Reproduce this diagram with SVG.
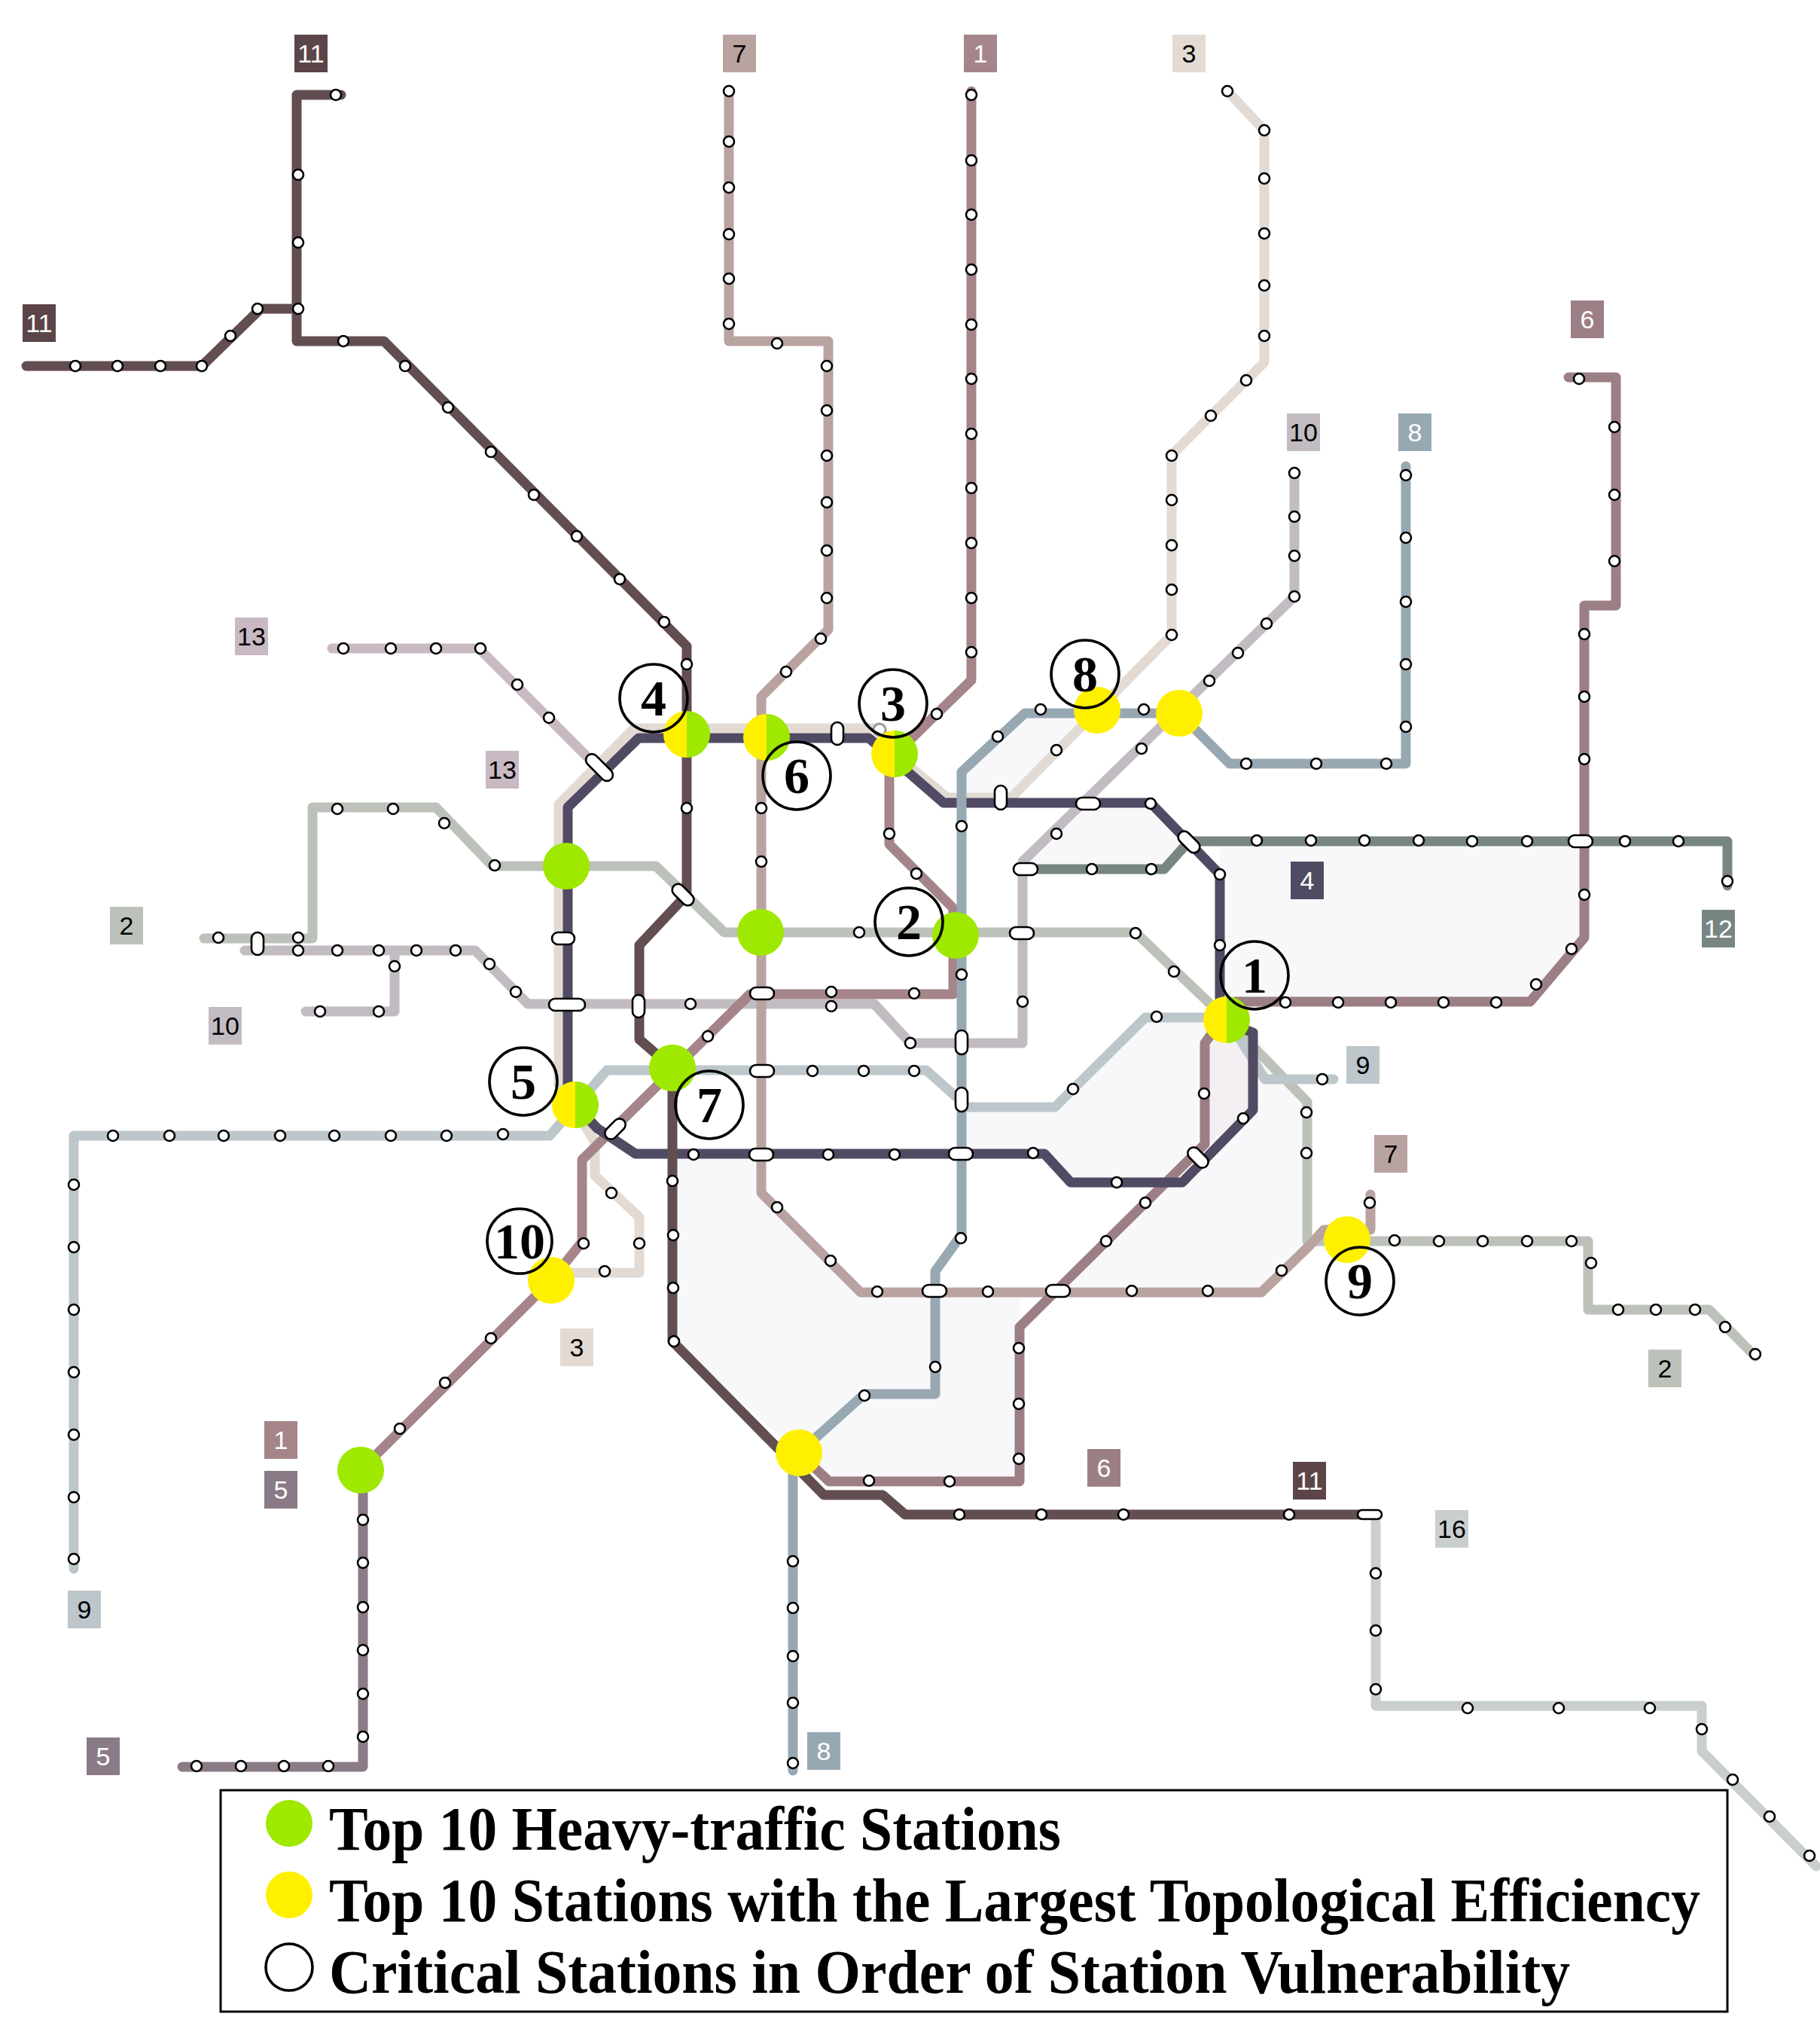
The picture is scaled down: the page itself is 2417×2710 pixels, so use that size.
<svg xmlns="http://www.w3.org/2000/svg" width="2417" height="2710" viewBox="0 0 2417 2710">
<style>
.l{fill:none;stroke-width:13;stroke-linejoin:round;stroke-linecap:round}
.s circle{fill:#fff;stroke:#000;stroke-width:2.6}
.p rect{fill:#fff;stroke:#000;stroke-width:2.6}
.r{fill:none;stroke:#000;stroke-width:3.6}
.n{font:bold 68px "Liberation Serif",serif;text-anchor:middle;fill:#000}
.t{font:34px "Liberation Sans",Arial,sans-serif;text-anchor:middle}
.lg{font:bold 82px "Liberation Serif",serif;fill:#000}
.y{fill:#fff000}.g{fill:#9fe800}
.reg{fill:#f8f8fb}
</style>
<defs>
<g id="half"><path class="y" d="M0-31A31 31 0 0 0 0 31Z"/><path class="g" d="M0-31A31 31 0 0 1 0 31Z"/></g>
</defs>
<rect width="2417" height="2710" fill="#fff"/>
<g id="regions">
<path class="reg" d="M1620 1117H2104V1245L2032 1330H1640L1620 1300Z"/>
<path class="reg" d="M895 1532H1012V1584L1143 1716H1242L1354 1714L1354 1762V1966H1101L1061 1929L895 1781Z"/>
<path class="reg" d="M1277 1470H1401L1521 1351H1629L1600 1385V1519L1570 1570H1422L1387 1532H1277Z"/>
<path class="reg" d="M1664 1371L1736 1463V1648L1675 1714H1405L1600 1519L1664 1474Z"/>
<path d="M1602 1385L1630 1360L1664 1400V1474L1602 1519Z" fill="#f3eff2"/>
<path class="reg" d="M1277 1025L1361 942H1457L1343 1059H1277Z"/>
<path class="reg" d="M1358 1144L1440 1066H1528L1579 1117L1546 1154H1358Z"/>
</g>
<g id="connectors">
<path class="l" stroke="#c8cfce" d="M1819 2011H1827V2265H2260V2325L2412 2478"/>
<path class="l" stroke="#c8b9c2" d="M441 861H636L795 1020"/>
<path class="l" stroke="#e2dad3" d="M1630 121L1679 173V481L1556 604V843L1343 1059H1258L1188 1001L1168 967H842L742 1068V1440L790 1516V1561L849 1616V1690H732"/>
<path class="l" stroke="#bcc2b9" d="M271 1246H415V1072H579L654 1150H871L962 1238H1508L1629 1354L1736 1463V1648H2109V1739H2270L2331 1801"/>
<path class="l" stroke="#c2bcc2" d="M1719 626V792L1358 1144V1385H1209L1161 1333H701L631 1262H325M524 1262V1343H406"/>
<path class="l" stroke="#b9a3a0" d="M968 121V453H1100V836L1011 925V1584L1143 1716H1675L1740 1653L1758 1633H1820V1586"/>
<path class="l" stroke="#bdc6cb" d="M98 2083V1508H730L806 1421H1230L1285 1470H1401L1521 1351H1629L1680 1433H1771"/>
<path class="l" stroke="#a58589" d="M1290 121V903L1212 979L1181 1010V1121L1266 1206V1320H996L773 1540V1649L732 1700L479 1952"/>
<path class="l" stroke="#8b7b86" d="M482 1952V2346H242"/>
<path class="l" stroke="#9c7f84" d="M2083 501H2146V804H2104V1245L2032 1330H1640L1600 1385V1519L1354 1762V1967H1101L1061 1929"/>
<path class="l" stroke="#778683" d="M1363 1154H1546L1579 1117H2294V1176"/>
<path class="l" stroke="#514a63" d="M764 1467H754V1072L848 980H1154L1253 1066H1528L1620 1161V1354L1664 1371V1474L1570 1570H1422L1387 1532H844L793 1498L764 1467"/>
<path class="l" stroke="#624e50" d="M453 126H394V453H510L912 858V1188L849 1255V1380L893 1418V1781L1094 1985H1172L1202 2011H1819M35 486H268L346 410H394"/>
<path class="l" stroke="#98a8b3" d="M1867 619V1014H1633L1566 947H1361L1277 1025V1639L1242 1688V1851H1148L1061 1929M1053 1929V2351"/>
</g>
<g id="stations" class="s">
<g id="line11-stations"><circle cx="446" cy="126" r="7"/><circle cx="396" cy="232" r="7"/><circle cx="396" cy="322" r="7"/><circle cx="396" cy="410" r="7"/><circle cx="456" cy="453" r="7"/><circle cx="538" cy="486" r="7"/><circle cx="595" cy="541" r="7"/><circle cx="652" cy="600" r="7"/><circle cx="709" cy="657" r="7"/><circle cx="766" cy="712" r="7"/><circle cx="823" cy="769" r="7"/><circle cx="882" cy="826" r="7"/><circle cx="912" cy="882" r="7"/><circle cx="100" cy="486" r="7"/><circle cx="156" cy="486" r="7"/><circle cx="213" cy="486" r="7"/><circle cx="268" cy="486" r="7"/><circle cx="306" cy="446" r="7"/><circle cx="342" cy="410" r="7"/><circle cx="912" cy="1073" r="7"/><circle cx="893" cy="1568" r="7"/><circle cx="894" cy="1640" r="7"/><circle cx="894" cy="1710" r="7"/><circle cx="895" cy="1781" r="7"/><circle cx="1274" cy="2011" r="7"/><circle cx="1383" cy="2011" r="7"/><circle cx="1492" cy="2011" r="7"/><circle cx="1712" cy="2011" r="7"/></g>
<g id="line16-stations"><circle cx="1827" cy="2089" r="7"/><circle cx="1827" cy="2165" r="7"/><circle cx="1827" cy="2243" r="7"/><circle cx="1949" cy="2268" r="7"/><circle cx="2070" cy="2268" r="7"/><circle cx="2191" cy="2268" r="7"/><circle cx="2260" cy="2296" r="7"/><circle cx="2301" cy="2363" r="7"/><circle cx="2350" cy="2412" r="7"/><circle cx="2403" cy="2464" r="7"/></g>
<g id="line7-stations"><circle cx="968" cy="121" r="7"/><circle cx="968" cy="188" r="7"/><circle cx="968" cy="249" r="7"/><circle cx="968" cy="311" r="7"/><circle cx="968" cy="370" r="7"/><circle cx="968" cy="430" r="7"/><circle cx="1032" cy="456" r="7"/><circle cx="1098" cy="486" r="7"/><circle cx="1098" cy="545" r="7"/><circle cx="1098" cy="605" r="7"/><circle cx="1098" cy="667" r="7"/><circle cx="1098" cy="731" r="7"/><circle cx="1098" cy="794" r="7"/><circle cx="1090" cy="848" r="7"/><circle cx="1044" cy="892" r="7"/><circle cx="1011" cy="1073" r="7"/><circle cx="1011" cy="1144" r="7"/><circle cx="1032" cy="1603" r="7"/><circle cx="1103" cy="1674" r="7"/><circle cx="1165" cy="1715" r="7"/><circle cx="1312" cy="1715" r="7"/><circle cx="1503" cy="1714" r="7"/><circle cx="1604" cy="1714" r="7"/><circle cx="1702" cy="1687" r="7"/><circle cx="1819" cy="1597" r="7"/></g>
<g id="line1-stations"><circle cx="1290" cy="126" r="7"/><circle cx="1290" cy="213" r="7"/><circle cx="1290" cy="285" r="7"/><circle cx="1290" cy="358" r="7"/><circle cx="1290" cy="431" r="7"/><circle cx="1290" cy="503" r="7"/><circle cx="1290" cy="576" r="7"/><circle cx="1290" cy="648" r="7"/><circle cx="1290" cy="721" r="7"/><circle cx="1290" cy="794" r="7"/><circle cx="1290" cy="866" r="7"/><circle cx="1244" cy="948" r="7"/><circle cx="1181" cy="1107" r="7"/><circle cx="1217" cy="1160" r="7"/><circle cx="1214" cy="1319" r="7"/><circle cx="1104" cy="1317" r="7"/><circle cx="940" cy="1376" r="7"/><circle cx="775" cy="1651" r="7"/><circle cx="652" cy="1777" r="7"/><circle cx="591" cy="1836" r="7"/><circle cx="531" cy="1897" r="7"/></g>
<g id="line5-stations"><circle cx="482" cy="2018" r="7"/><circle cx="482" cy="2075" r="7"/><circle cx="482" cy="2134" r="7"/><circle cx="482" cy="2191" r="7"/><circle cx="482" cy="2249" r="7"/><circle cx="482" cy="2306" r="7"/><circle cx="436" cy="2345" r="7"/><circle cx="377" cy="2345" r="7"/><circle cx="320" cy="2345" r="7"/><circle cx="261" cy="2345" r="7"/></g>
<g id="line3-stations"><circle cx="1630" cy="121" r="7"/><circle cx="1679" cy="173" r="7"/><circle cx="1679" cy="237" r="7"/><circle cx="1679" cy="310" r="7"/><circle cx="1679" cy="379" r="7"/><circle cx="1679" cy="446" r="7"/><circle cx="1655" cy="505" r="7"/><circle cx="1608" cy="552" r="7"/><circle cx="1556" cy="605" r="7"/><circle cx="1556" cy="664" r="7"/><circle cx="1556" cy="724" r="7"/><circle cx="1556" cy="783" r="7"/><circle cx="1556" cy="843" r="7"/><circle cx="1403" cy="996" r="7"/><circle cx="812" cy="1584" r="7"/><circle cx="849" cy="1651" r="7"/><circle cx="803" cy="1688" r="7"/></g>
<g id="line10-stations"><circle cx="1719" cy="628" r="7"/><circle cx="1719" cy="686" r="7"/><circle cx="1719" cy="738" r="7"/><circle cx="1719" cy="792" r="7"/><circle cx="1682" cy="828" r="7"/><circle cx="1644" cy="867" r="7"/><circle cx="1606" cy="904" r="7"/><circle cx="1516" cy="994" r="7"/><circle cx="1403" cy="1107" r="7"/><circle cx="1358" cy="1330" r="7"/><circle cx="1104" cy="1336" r="7"/><circle cx="917" cy="1333" r="7"/><circle cx="685" cy="1317" r="7"/><circle cx="650" cy="1280" r="7"/><circle cx="605" cy="1262" r="7"/><circle cx="553" cy="1262" r="7"/><circle cx="503" cy="1262" r="7"/><circle cx="448" cy="1262" r="7"/><circle cx="396" cy="1262" r="7"/><circle cx="524" cy="1283" r="7"/><circle cx="503" cy="1343" r="7"/><circle cx="425" cy="1343" r="7"/><circle cx="1209" cy="1385" r="7"/></g>
<g id="line2-stations"><circle cx="290" cy="1245" r="7"/><circle cx="396" cy="1245" r="7"/><circle cx="448" cy="1074" r="7"/><circle cx="522" cy="1074" r="7"/><circle cx="590" cy="1093" r="7"/><circle cx="657" cy="1149" r="7"/><circle cx="1141" cy="1238" r="7"/><circle cx="1508" cy="1239" r="7"/><circle cx="1559" cy="1290" r="7"/><circle cx="1735" cy="1477" r="7"/><circle cx="1735" cy="1531" r="7"/><circle cx="1852" cy="1647" r="7"/><circle cx="1911" cy="1648" r="7"/><circle cx="1969" cy="1648" r="7"/><circle cx="2028" cy="1648" r="7"/><circle cx="2087" cy="1648" r="7"/><circle cx="2113" cy="1677" r="7"/><circle cx="2149" cy="1739" r="7"/><circle cx="2199" cy="1739" r="7"/><circle cx="2251" cy="1739" r="7"/><circle cx="2291" cy="1762" r="7"/><circle cx="2331" cy="1798" r="7"/></g>
<g id="line8-stations"><circle cx="1867" cy="631" r="7"/><circle cx="1867" cy="714" r="7"/><circle cx="1867" cy="799" r="7"/><circle cx="1867" cy="882" r="7"/><circle cx="1867" cy="965" r="7"/><circle cx="1841" cy="1014" r="7"/><circle cx="1748" cy="1014" r="7"/><circle cx="1655" cy="1014" r="7"/><circle cx="1519" cy="942" r="7"/><circle cx="1382" cy="942" r="7"/><circle cx="1325" cy="978" r="7"/><circle cx="1277" cy="1097" r="7"/><circle cx="1277" cy="1294" r="7"/><circle cx="1276" cy="1644" r="7"/><circle cx="1242" cy="1815" r="7"/><circle cx="1148" cy="1853" r="7"/><circle cx="1053" cy="2073" r="7"/><circle cx="1053" cy="2135" r="7"/><circle cx="1053" cy="2199" r="7"/><circle cx="1053" cy="2261" r="7"/><circle cx="1053" cy="2341" r="7"/></g>
<g id="line6-stations"><circle cx="2097" cy="503" r="7"/><circle cx="2144" cy="567" r="7"/><circle cx="2144" cy="657" r="7"/><circle cx="2144" cy="745" r="7"/><circle cx="2104" cy="842" r="7"/><circle cx="2104" cy="925" r="7"/><circle cx="2104" cy="1008" r="7"/><circle cx="2104" cy="1188" r="7"/><circle cx="2087" cy="1260" r="7"/><circle cx="2040" cy="1307" r="7"/><circle cx="1987" cy="1331" r="7"/><circle cx="1917" cy="1331" r="7"/><circle cx="1847" cy="1331" r="7"/><circle cx="1777" cy="1331" r="7"/><circle cx="1707" cy="1331" r="7"/><circle cx="1599" cy="1452" r="7"/><circle cx="1521" cy="1597" r="7"/><circle cx="1469" cy="1648" r="7"/><circle cx="1353" cy="1790" r="7"/><circle cx="1353" cy="1864" r="7"/><circle cx="1353" cy="1937" r="7"/><circle cx="1261" cy="1967" r="7"/><circle cx="1154" cy="1966" r="7"/></g>
<g id="line4-stations"><circle cx="1528" cy="1067" r="7"/><circle cx="1620" cy="1161" r="7"/><circle cx="1620" cy="1255" r="7"/><circle cx="1372" cy="1531" r="7"/><circle cx="1483" cy="1570" r="7"/><circle cx="1651" cy="1485" r="7"/><circle cx="921" cy="1533" r="7"/><circle cx="1100" cy="1533" r="7"/><circle cx="1188" cy="1533" r="7"/></g>
<g id="line9-stations"><circle cx="1079" cy="1422" r="7"/><circle cx="1147" cy="1422" r="7"/><circle cx="1214" cy="1422" r="7"/><circle cx="668" cy="1506" r="7"/><circle cx="1425" cy="1446" r="7"/><circle cx="1536" cy="1350" r="7"/><circle cx="1756" cy="1433" r="7"/><circle cx="150" cy="1508" r="7"/><circle cx="225" cy="1508" r="7"/><circle cx="297" cy="1508" r="7"/><circle cx="372" cy="1508" r="7"/><circle cx="444" cy="1508" r="7"/><circle cx="519" cy="1508" r="7"/><circle cx="593" cy="1508" r="7"/><circle cx="98" cy="1573" r="7"/><circle cx="98" cy="1656" r="7"/><circle cx="98" cy="1739" r="7"/><circle cx="98" cy="1822" r="7"/><circle cx="98" cy="1905" r="7"/><circle cx="98" cy="1988" r="7"/><circle cx="98" cy="2070" r="7"/></g>
<g id="line12-stations"><circle cx="1450" cy="1154" r="7"/><circle cx="1529" cy="1154" r="7"/><circle cx="1669" cy="1116" r="7"/><circle cx="1741" cy="1116" r="7"/><circle cx="1812" cy="1116" r="7"/><circle cx="1884" cy="1116" r="7"/><circle cx="1955" cy="1117" r="7"/><circle cx="2028" cy="1117" r="7"/><circle cx="2158" cy="1117" r="7"/><circle cx="2229" cy="1117" r="7"/><circle cx="2294" cy="1170" r="7"/></g>
<g id="line13-stations"><circle cx="456" cy="861" r="7"/><circle cx="519" cy="861" r="7"/><circle cx="579" cy="861" r="7"/><circle cx="638" cy="861" r="7"/><circle cx="687" cy="909" r="7"/><circle cx="729" cy="953" r="7"/></g>
<circle cx="1168" cy="969" r="8" style="fill:#fff;stroke:#999;stroke-width:3"/>
</g>
<g id="interchanges" class="p">
<rect x="-15" y="-8" width="30" height="16" rx="8" transform="translate(342 1253) rotate(90)"/>
<rect x="-22" y="-8" width="44" height="16" rx="8" transform="translate(796 1019) rotate(-135)"/>
<rect x="-15" y="-8" width="30" height="16" rx="8" transform="translate(748 1246)"/>
<rect x="-24" y="-8" width="48" height="16" rx="8" transform="translate(753 1334)"/>
<rect x="-15" y="-8" width="30" height="16" rx="8" transform="translate(1112 974) rotate(90)"/>
<rect x="-15" y="-8" width="30" height="16" rx="8" transform="translate(848 1336) rotate(90)"/>
<rect x="-17" y="-8" width="34" height="16" rx="8" transform="translate(907 1188) rotate(45)"/>
<rect x="-16" y="-8" width="32" height="16" rx="8" transform="translate(1012 1319)"/>
<rect x="-16" y="-8" width="32" height="16" rx="8" transform="translate(1012 1422)"/>
<rect x="-16" y="-8" width="32" height="16" rx="8" transform="translate(1277 1384) rotate(90)"/>
<rect x="-16" y="-8" width="32" height="16" rx="8" transform="translate(1277 1460) rotate(90)"/>
<rect x="-16" y="-8" width="32" height="16" rx="8" transform="translate(1329 1059) rotate(90)"/>
<rect x="-16" y="-8" width="32" height="16" rx="8" transform="translate(1445 1067)"/>
<rect x="-17" y="-8" width="34" height="16" rx="8" transform="translate(1579 1118) rotate(45)"/>
<rect x="-16" y="-8" width="32" height="16" rx="8" transform="translate(1362 1154)"/>
<rect x="-16" y="-8" width="32" height="16" rx="8" transform="translate(1357 1239)"/>
<rect x="-16" y="-8" width="32" height="16" rx="8" transform="translate(817 1499) rotate(-45)"/>
<rect x="-16" y="-8" width="32" height="16" rx="8" transform="translate(1011 1533)"/>
<rect x="-16" y="-8" width="32" height="16" rx="8" transform="translate(1276 1532)"/>
<rect x="-16" y="-8" width="32" height="16" rx="8" transform="translate(1241 1714)"/>
<rect x="-16" y="-8" width="32" height="16" rx="8" transform="translate(1405 1714)"/>
<rect x="-16" y="-8" width="32" height="16" rx="8" transform="translate(1591 1537) rotate(45)"/>
<rect x="-16" y="-8" width="32" height="16" rx="8" transform="translate(2099 1117)"/>
<rect x="-16" y="-6" width="32" height="12" rx="6" transform="translate(1819 2011)"/>
</g>
<g id="key-stations">
<circle id="green-west" class="g" cx="752" cy="1150" r="31"/>
<circle id="green-center" class="g" cx="1010" cy="1238" r="31"/>
<circle id="green-2" class="g" cx="1269" cy="1242" r="31"/>
<circle id="green-7" class="g" cx="893" cy="1418" r="31"/>
<circle id="green-sw" class="g" cx="479" cy="1952" r="31"/>
<use id="half-4" href="#half" x="912" y="975"/>
<use id="half-6" href="#half" x="1018" y="979"/>
<use id="half-3" href="#half" x="1188" y="1001"/>
<use id="half-5" href="#half" x="764" y="1467"/>
<use id="half-1" href="#half" x="1629" y="1354"/>
<circle id="yellow-8" class="y" cx="1457" cy="943" r="31"/>
<circle id="yellow-ne" class="y" cx="1566" cy="947" r="31"/>
<circle id="yellow-9" class="y" cx="1789" cy="1646" r="31"/>
<circle id="yellow-10" class="y" cx="732" cy="1700" r="31"/>
<circle id="yellow-south" class="y" cx="1061" cy="1929" r="31"/>
</g>
<g id="critical-labels">
<g id="critical-1"><circle class="r" cx="1666" cy="1295" r="45"/><text class="n" x="1666" y="1318">1</text></g>
<g id="critical-2"><circle class="r" cx="1207" cy="1224" r="45"/><text class="n" x="1207" y="1247">2</text></g>
<g id="critical-3"><circle class="r" cx="1186" cy="934" r="45"/><text class="n" x="1186" y="957">3</text></g>
<g id="critical-4"><circle class="r" cx="868" cy="927" r="45"/><text class="n" x="868" y="950">4</text></g>
<g id="critical-5"><circle class="r" cx="695" cy="1436" r="45"/><text class="n" x="695" y="1459">5</text></g>
<g id="critical-6"><circle class="r" cx="1058" cy="1030" r="45"/><text class="n" x="1058" y="1053">6</text></g>
<g id="critical-7"><circle class="r" cx="942" cy="1467" r="45"/><text class="n" x="942" y="1490">7</text></g>
<g id="critical-8"><circle class="r" cx="1441" cy="895" r="45"/><text class="n" x="1441" y="918">8</text></g>
<g id="critical-9"><circle class="r" cx="1806" cy="1701" r="45"/><text class="n" x="1806" y="1724">9</text></g>
<g id="critical-10"><circle class="r" cx="690" cy="1648" r="43"/><text class="n" x="690" y="1671">10</text></g>
</g>
<g id="line-labels">
<g><rect x="391" y="46" width="44" height="50" fill="#5c4548"/><text class="t" x="413" y="83" fill="#fff">11</text></g>
<g><rect x="960" y="46" width="44" height="50" fill="#b9a3a0"/><text class="t" x="982" y="83" fill="#000">7</text></g>
<g><rect x="1280" y="46" width="44" height="50" fill="#a58589"/><text class="t" x="1302" y="83" fill="#fff">1</text></g>
<g><rect x="1557" y="46" width="44" height="50" fill="#e2dad3"/><text class="t" x="1579" y="83" fill="#000">3</text></g>
<g><rect x="30" y="404" width="44" height="50" fill="#5c4548"/><text class="t" x="52" y="441" fill="#fff">11</text></g>
<g><rect x="2086" y="399" width="44" height="50" fill="#9c7f84"/><text class="t" x="2108" y="436" fill="#fff">6</text></g>
<g><rect x="1709" y="549" width="44" height="50" fill="#c2bcc2"/><text class="t" x="1731" y="586" fill="#000">10</text></g>
<g><rect x="1857" y="549" width="44" height="50" fill="#98a8b3"/><text class="t" x="1879" y="586" fill="#fff">8</text></g>
<g><rect x="312" y="820" width="44" height="50" fill="#c8b9c2"/><text class="t" x="334" y="857" fill="#000">13</text></g>
<g><rect x="645" y="997" width="44" height="50" fill="#c8b9c2"/><text class="t" x="667" y="1034" fill="#000">13</text></g>
<g><rect x="146" y="1204" width="44" height="50" fill="#bcc2b9"/><text class="t" x="168" y="1241" fill="#000">2</text></g>
<g><rect x="1714" y="1144" width="44" height="50" fill="#514a63"/><text class="t" x="1736" y="1181" fill="#fff">4</text></g>
<g><rect x="2260" y="1208" width="44" height="50" fill="#778683"/><text class="t" x="2282" y="1245" fill="#fff">12</text></g>
<g><rect x="277" y="1337" width="44" height="50" fill="#c2bcc2"/><text class="t" x="299" y="1374" fill="#000">10</text></g>
<g><rect x="1788" y="1389" width="44" height="50" fill="#bdc6cb"/><text class="t" x="1810" y="1426" fill="#000">9</text></g>
<g><rect x="1825" y="1507" width="44" height="50" fill="#b9a3a0"/><text class="t" x="1847" y="1544" fill="#000">7</text></g>
<g><rect x="744" y="1764" width="44" height="50" fill="#e2dad3"/><text class="t" x="766" y="1801" fill="#000">3</text></g>
<g><rect x="2189" y="1792" width="44" height="50" fill="#bcc2b9"/><text class="t" x="2211" y="1829" fill="#000">2</text></g>
<g><rect x="351" y="1887" width="44" height="50" fill="#a58589"/><text class="t" x="373" y="1924" fill="#fff">1</text></g>
<g><rect x="351" y="1953" width="44" height="50" fill="#8b7b86"/><text class="t" x="373" y="1990" fill="#fff">5</text></g>
<g><rect x="1444" y="1924" width="44" height="50" fill="#9c7f84"/><text class="t" x="1466" y="1961" fill="#fff">6</text></g>
<g><rect x="1717" y="1941" width="44" height="50" fill="#5c4548"/><text class="t" x="1739" y="1978" fill="#fff">11</text></g>
<g><rect x="1906" y="2005" width="44" height="50" fill="#c8cfce"/><text class="t" x="1928" y="2042" fill="#000">16</text></g>
<g><rect x="90" y="2112" width="44" height="50" fill="#bdc6cb"/><text class="t" x="112" y="2149" fill="#000">9</text></g>
<g><rect x="115" y="2307" width="44" height="50" fill="#8b7b86"/><text class="t" x="137" y="2344" fill="#fff">5</text></g>
<g><rect x="1072" y="2300" width="44" height="50" fill="#98a8b3"/><text class="t" x="1094" y="2337" fill="#fff">8</text></g>
<g><rect x="2226" y="2428" width="44" height="50" fill="#c8cfce"/><text class="t" x="2248" y="2465" fill="#000">16</text></g>
</g>
<g id="legend">
<rect x="293" y="2377" width="2001" height="294" fill="#fff" stroke="#000" stroke-width="3"/>
<circle class="g" cx="384" cy="2421" r="31"/>
<circle class="y" cx="384" cy="2516" r="31"/>
<circle class="r" cx="384" cy="2612" r="31"/>
<text class="lg" x="437" y="2456" textLength="972" lengthAdjust="spacingAndGlyphs">Top 10 Heavy-traffic Stations</text>
<text class="lg" x="437" y="2551" textLength="1821" lengthAdjust="spacingAndGlyphs">Top 10 Stations with the Largest Topological Efficiency</text>
<text class="lg" x="437" y="2646" textLength="1648" lengthAdjust="spacingAndGlyphs">Critical Stations in Order of Station Vulnerability</text>
</g>
</svg>
